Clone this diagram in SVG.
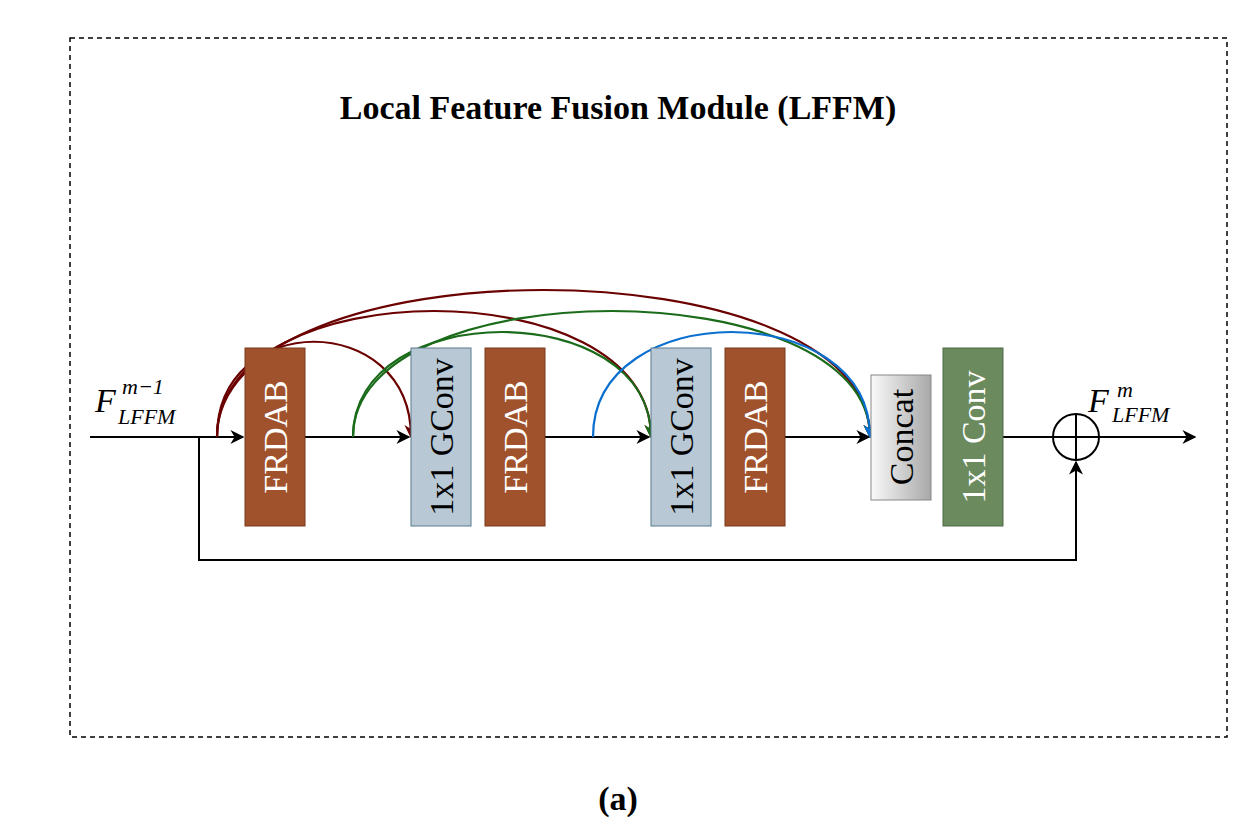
<svg xmlns="http://www.w3.org/2000/svg" width="1234" height="835" viewBox="0 0 1234 835">
<style>
text{font-family:"Liberation Serif",serif}
.bt{font-size:34px;fill:#fff}
.dk{fill:#000}
.ln{fill:none;stroke:#000;stroke-width:2}
.arc{fill:none;stroke-width:2.2}
</style>
<defs>
<marker id="ak" viewBox="0 0 10 10" refX="9" refY="5" markerWidth="7" markerHeight="7" orient="auto"><path d="M0,0 L10,5 L0,10 L3,5z" fill="#000"/></marker>
<marker id="ar" viewBox="0 0 10 10" refX="9" refY="5" markerWidth="6" markerHeight="6" orient="auto"><path d="M0,0 L10,5 L0,10 L3,5z" fill="#6b0000"/></marker>
<marker id="ag" viewBox="0 0 10 10" refX="9" refY="5" markerWidth="6" markerHeight="6" orient="auto"><path d="M0,0 L10,5 L0,10 L3,5z" fill="#1a6b1a"/></marker>
<marker id="ab" viewBox="0 0 10 10" refX="9" refY="5" markerWidth="6" markerHeight="6" orient="auto"><path d="M0,0 L10,5 L0,10 L3,5z" fill="#0a6fcf"/></marker>
<linearGradient id="cg" x1="0" x2="1"><stop offset="0" stop-color="#fafafa"/><stop offset="1" stop-color="#a8a8a8"/></linearGradient>
</defs>
<rect x="70" y="38" width="1157" height="699" fill="none" stroke="#000" stroke-width="1.5" stroke-dasharray="5,4"/>
<text x="618" y="119" text-anchor="middle" font-size="34" font-weight="bold">Local Feature Fusion Module (LFFM)</text>
<text x="618" y="810" text-anchor="middle" font-size="34" font-weight="bold">(a)</text>
<g id="connectors">
<path class="ln" d="M90,437 H243" marker-end="url(#ak)"/>
<path class="ln" d="M305,437 H409" marker-end="url(#ak)"/>
<path class="ln" d="M545,437 H649" marker-end="url(#ak)"/>
<path class="ln" d="M785,437 H869" marker-end="url(#ak)"/>
<path class="ln" d="M1003,437 H1053"/>
<path class="ln" d="M1099,437 H1195" marker-end="url(#ak)"/>
<path class="ln" d="M199,437 V560 H1076 V462" marker-end="url(#ak)"/>
<path class="arc" stroke="#6b0000" d="M217,437 C217,310 411,310 411,437" marker-end="url(#ar)"/>
<path class="arc" stroke="#6b0000" d="M217,437 C217,269 651,269 651,437" marker-end="url(#ar)"/>
<path class="arc" stroke="#6b0000" d="M217,437 C217,241 870,241 870,437" marker-end="url(#ar)"/>
<path class="arc" stroke="#1a6b1a" d="M353,437 C353,297 651,297 651,437" marker-end="url(#ag)"/>
<path class="arc" stroke="#1a6b1a" d="M353,437 C353,269 870,269 870,437" marker-end="url(#ag)"/>
<path class="arc" stroke="#0a6fcf" d="M593,437 C593,297 870,297 870,437" marker-end="url(#ab)"/>
</g>
<g id="in"><text x="95" y="412" font-size="34" font-style="italic">F</text><text x="122" y="394" font-size="22" font-style="italic">m−1</text><text x="118" y="424" font-size="22" font-style="italic">LFFM</text></g>
<g id="out"><text x="1088" y="412" font-size="34" font-style="italic">F</text><text x="1117" y="397" font-size="22" font-style="italic">m</text><text x="1112" y="422" font-size="22" font-style="italic">LFFM</text></g>
<g id="frdab1"><rect x="245" y="348" width="60" height="178" fill="#a0522d" stroke="#7a3a1c"/><text class="bt" transform="translate(287,437) rotate(-90)" text-anchor="middle">FRDAB</text></g>
<g id="gconv1"><rect x="411" y="348" width="60" height="178" fill="#b8c8d4" stroke="#5a7a90"/><text class="dk" font-size="34" transform="translate(453,437) rotate(-90)" text-anchor="middle">1x1 GConv</text></g>
<g id="frdab2"><rect x="485" y="348" width="60" height="178" fill="#a0522d" stroke="#7a3a1c"/><text class="bt" transform="translate(527,437) rotate(-90)" text-anchor="middle">FRDAB</text></g>
<g id="gconv2"><rect x="651" y="348" width="60" height="178" fill="#b8c8d4" stroke="#5a7a90"/><text class="dk" font-size="34" transform="translate(693,437) rotate(-90)" text-anchor="middle">1x1 GConv</text></g>
<g id="frdab3"><rect x="725" y="348" width="60" height="178" fill="#a0522d" stroke="#7a3a1c"/><text class="bt" transform="translate(767,437) rotate(-90)" text-anchor="middle">FRDAB</text></g>
<g id="concat"><rect x="871" y="375" width="60" height="125" fill="url(#cg)" stroke="#888"/><text class="dk" font-size="34" transform="translate(913,437) rotate(-90)" text-anchor="middle">Concat</text></g>
<g id="conv"><rect x="943" y="348" width="60" height="178" fill="#6b8a5e" stroke="#4e6a44"/><text class="bt" transform="translate(985,437) rotate(-90)" text-anchor="middle">1x1 Conv</text></g>
<g id="sum"><circle cx="1076" cy="437" r="23" fill="#fff" stroke="#000" stroke-width="2"/><path class="ln" d="M1053,437 H1099 M1076,414 V460"/></g>
</svg>
